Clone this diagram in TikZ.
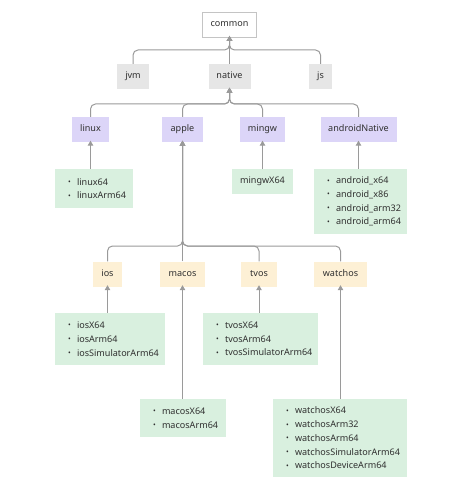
\documentclass[tikz,border=0pt]{standalone}
\usepackage{fontspec}
\setmainfont{Noto Sans}
\usetikzlibrary{arrows.meta}
\definecolor{txt}{HTML}{303030}
\definecolor{linec}{HTML}{9A9A9A}
\definecolor{commonb}{HTML}{C4C4C4}
\definecolor{grayf}{HTML}{E6E6E6}
\definecolor{purplef}{HTML}{DCD5F8}
\definecolor{yellowf}{HTML}{FDF0D5}
\definecolor{greenf}{HTML}{D9F0DF}
\newcommand{\bul}{\makebox[9bp][l]{\raisebox{0.6bp}{\scalebox{0.8}{•}}}}
\begin{document}
\begin{tikzpicture}[x=1bp,y=-1bp,
  base/.style={rectangle, inner sep=0pt, text=txt, font=\fontsize{9.1}{13.8}\selectfont},
  single/.style={base, text height=6.8bp, text depth=2bp, minimum height=25bp},
  commonbox/.style={single, fill=white, draw=commonb, line width=0.8bp},
  graybox/.style={single, fill=grayf},
  purplebox/.style={single, fill=purplef},
  yellowbox/.style={single, fill=yellowf},
  greenbox/.style={single, fill=greenf},
  listbox/.style={base, fill=greenf, align=left, inner xsep=13bp},
  conn/.style={draw=linec, line width=1bp, rounded corners=5bp,
    -{Triangle[length=5bp,width=5.5bp]}, shorten >=-1.5bp}
]
\path[use as bounding box] (0,0) rectangle (474,491);

% level 0
\node[commonbox, minimum width=54bp] (common) at (229.5,24.5) {common};
% level 1
\node[graybox, minimum width=32bp] (jvm) at (133,76.5) {jvm};
\node[graybox, minimum width=42bp] (native) at (229.5,76.5) {native};
\node[graybox, minimum width=23bp] (js) at (320.5,76.5) {js};
% level 2
\node[purplebox, minimum width=37bp] (linux) at (90.5,129.5) {linux};
\node[purplebox, minimum width=41bp] (apple) at (182.5,129.5) {apple};
\node[purplebox, minimum width=45bp] (mingw) at (262.5,129.5) {mingw};
\node[purplebox, minimum width=76bp] (androidNative) at (358.5,129.5) {androidNative};
% level 2 leaves
\node[listbox, text width=52bp, minimum height=39bp] (linuxList) at (94,188.5)
  {\bul linux64\\\bul linuxArm64};
\node[greenbox, minimum width=61bp] (mingwList) at (262.5,181.5) {mingwX64};
\node[listbox, text width=67bp, minimum height=65bp] (androidList) at (360.5,201.5)
  {\bul android\_x64\\\bul android\_x86\\\bul android\_arm32\\\bul android\_arm64};
% level 3
\node[yellowbox, minimum width=29bp] (ios) at (107.5,274) {ios};
\node[yellowbox, minimum width=45bp] (macos) at (182.5,274) {macos};
\node[yellowbox, minimum width=36bp] (tvos) at (259,274) {tvos};
\node[yellowbox, minimum width=53bp] (watchos) at (340.5,274) {watchos};
% level 3 leaves
\node[listbox, text width=84bp, minimum height=52bp] (iosList) at (110,339)
  {\bul iosX64\\\bul iosArm64\\\bul iosSimulatorArm64};
\node[listbox, text width=89bp, minimum height=52bp] (tvosList) at (260.5,339)
  {\bul tvosX64\\\bul tvosArm64\\\bul tvosSimulatorArm64};
\node[listbox, text width=60bp, minimum height=38bp] (macosList) at (183,418)
  {\bul macosX64\\\bul macosArm64};
\node[listbox, text width=108bp, minimum height=78bp] (watchosList) at (340,438)
  {\bul watchosX64\\\bul watchosArm32\\\bul watchosArm64\\\bul watchosSimulatorArm64\\\bul watchosDeviceArm64};

% buses
\coordinate (busA) at (0,50);
\coordinate (busB) at (0,104);
\coordinate (busC) at (0,246);

% level 1 -> common
\draw[conn] (jvm.north) |- (common.south |- busA) -- (common.south);
\draw[conn] (native.north) -- (common.south);
\draw[conn] (js.north) |- (common.south |- busA) -- (common.south);
% level 2 -> native
\draw[conn] (linux.north) |- (native.south |- busB) -- (native.south);
\draw[conn] (apple.north) |- (native.south |- busB) -- (native.south);
\draw[conn] (mingw.north) |- (native.south |- busB) -- (native.south);
\draw[conn] (androidNative.north) |- (native.south |- busB) -- (native.south);
% leaves -> level 2
\draw[conn] (linux.south |- linuxList.north) -- (linux.south);
\draw[conn] (mingwList.north) -- (mingw.south);
\draw[conn] (androidNative.south |- androidList.north) -- (androidNative.south);
% level 3 -> apple
\draw[conn] (ios.north) |- (apple.south |- busC) -- (apple.south);
\draw[conn] (macos.north) -- (apple.south);
\draw[conn] (tvos.north) |- (apple.south |- busC) -- (apple.south);
\draw[conn] (watchos.north) |- (apple.south |- busC) -- (apple.south);
% leaves -> level 3
\draw[conn] (ios.south |- iosList.north) -- (ios.south);
\draw[conn] (tvos.south |- tvosList.north) -- (tvos.south);
\draw[conn] (macos.south |- macosList.north) -- (macos.south);
\draw[conn] (watchos.south |- watchosList.north) -- (watchos.south);
\end{tikzpicture}
\end{document}
